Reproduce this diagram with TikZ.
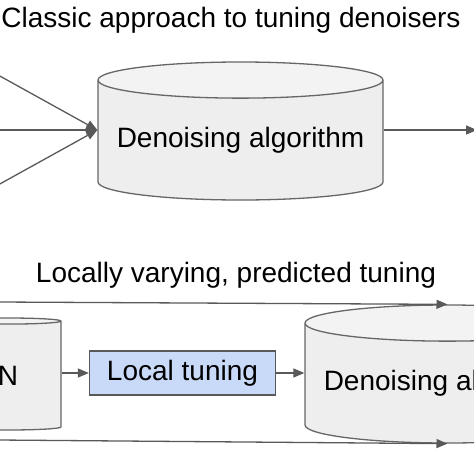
\documentclass[tikz,border=0pt]{standalone}
\usepackage{fontspec}
\setmainfont{Liberation Sans}
\usetikzlibrary{arrows.meta,shapes.geometric,positioning}
\definecolor{edgegray}{HTML}{666666}
\definecolor{arrowgray}{HTML}{595959}
\definecolor{bodygray}{HTML}{EEEEEE}
\definecolor{capgray}{HTML}{F3F3F3}
\definecolor{tuneblue}{HTML}{C9DAF8}

\begin{document}
\begin{tikzpicture}[x=1pt, y=-1pt,
    store/.style={cylinder, shape border rotate=90, aspect=0.146, anchor=shape center, draw=edgegray, line width=1.3pt, cylinder uses custom fill, cylinder body fill=bodygray, cylinder end fill=capgray, minimum width=285pt, minimum height=138pt, inner sep=0pt, font=\fontsize{28}{34}\selectfont},
    stage/.style={draw=arrowgray, fill=tuneblue, line width=1.3pt, minimum width=186pt, minimum height=44pt, inner sep=0pt, font=\fontsize{28}{34}\selectfont},
    arr/.style={-{Triangle[length=11pt, width=9pt]}, line width=1.3pt, color=arrowgray},
    ttl/.style={anchor=base, font=\fontsize{28}{34}\selectfont}
]
\useasboundingbox (0,0) rectangle (474,474);
\clip (0,0) rectangle (474,474);

% classic approach
\node[ttl] (classic) at (231,27) {Classic approach to tuning denoisers};
\node[store] (denoise) at (240.5,131) {Denoising algorithm};
\coordinate (inA) at (-2,75);
\coordinate (inB) at (-2,130);
\coordinate (inC) at (-2,185);
\coordinate (out) at (477,130);
\draw[arr] (inA) -- (denoise.west |- inB);
\draw[arr] (inB) -- (denoise.west |- inB);
\draw[arr] (inC) -- (denoise.west |- inB);
\draw[arr] (denoise.east |- out) -- (out);

% predicted tuning
\node[ttl] (local) at (236,282) {Locally varying, predicted tuning};
\node[store, minimum width=106pt, minimum height=112pt, aspect=0.3] (cnn) at (8,374) {N};
\node[stage] (tune) at (182.5,373) {Local tuning};
\node[store] (denoise2) at (447.5,374) {Denoising algorithm};
\coordinate (skipA) at (-2,302);
\coordinate (skipB) at (-2,440);
\draw[arr] (cnn.east |- tune.west) -- (tune);
\draw[arr] (tune) -- (denoise2.west |- tune.east);
\draw[arr] (skipA) -- (denoise2.north);
\draw[arr] (skipB) -- (denoise2.south);
\end{tikzpicture}
\end{document}
